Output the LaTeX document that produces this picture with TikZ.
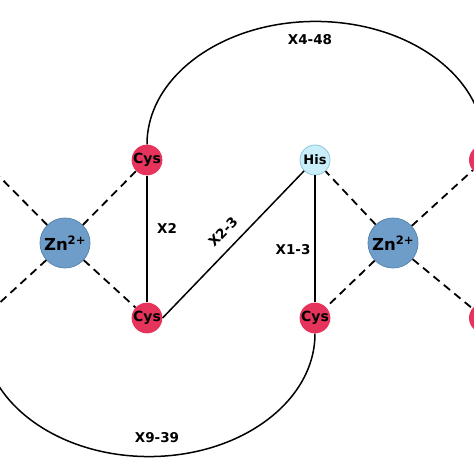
\documentclass[tikz,border=0pt]{standalone}
\usepackage{fontspec}
\setmainfont{DejaVu Sans}
\usepackage{tikz}

\definecolor{cysred}{HTML}{E6335C}
\definecolor{hisblue}{HTML}{C9EEF9}
\definecolor{hisline}{HTML}{8EC6DE}
\definecolor{znblue}{HTML}{6F9DC9}
\definecolor{znline}{HTML}{5A87B0}

\begin{document}
\begin{tikzpicture}[x=1pt,y=1pt,
    every node/.style={inner sep=0pt,font=\bfseries\fontsize{13.5}{13.5}\selectfont},
    cys/.style={circle,fill=cysred,minimum size=30pt,font=\bfseries\fontsize{14}{14}\selectfont},
    his/.style={circle,fill=hisblue,draw=hisline,line width=0.8pt,minimum size=30pt,font=\bfseries\fontsize{13}{13}\selectfont},
    zn/.style={circle,fill=znblue,draw=znline,line width=0.8pt,minimum size=50pt,font=\bfseries\fontsize{16.5}{16.5}\selectfont},
    bond/.style={line width=1.5pt,black},
    coord/.style={line width=1.8pt,black,dash pattern=on 8pt off 5.5pt}]
  \useasboundingbox (0,0) rectangle (474,474);
  \clip (0,0) rectangle (474,474);
  \fill [white] (0,0) rectangle (474,474);
  \coordinate (ltop) at (-17,314);
  \coordinate (lbot) at (-17,156);
  \node [zn] (znl) at (65,231) {Zn\textsuperscript{2+}};
  \node [cys] (cys1) at (147,314) {Cys};
  \node [cys] (cys2) at (147,156) {Cys};
  \node [his] (his) at (315,314) {His};
  \node [cys] (cys3) at (315,156) {Cys};
  \node [zn] (znr) at (393,231) {Zn\textsuperscript{2+}};
  \node [cys] (cys4) at (484,314) {};
  \node [cys] (cys5) at (484,156) {};
  \draw [coord] (znl) -- (ltop);
  \draw [coord] (znl) -- (lbot);
  \draw [coord] (znl) -- (cys1);
  \draw [coord] (znl) -- (cys2);
  \draw [coord] (znr) -- (his);
  \draw [coord] (znr) -- (cys3);
  \draw [coord] (znr) -- (cys4);
  \draw [coord] (znr) -- (cys5);
  \draw [bond] (cys1) -- (cys2);
  \draw [bond] (cys2.east) -- (his.south west);
  \draw [bond] (his) -- (cys3);
  \draw [bond] (cys1.north) arc [start angle=180,end angle=0,x radius=168.5,y radius=123];
  \draw [bond] (cys3.south) arc [start angle=0,end angle=-180,x radius=166,y radius=123];
  \node at (310,434) {X4-48};
  \node at (157,36) {X9-39};
  \node at (167,246) {X2};
  \node at (293,224) {X1-3};
  \node [rotate=46] at (223,242) {X2-3};
\end{tikzpicture}
\end{document}
